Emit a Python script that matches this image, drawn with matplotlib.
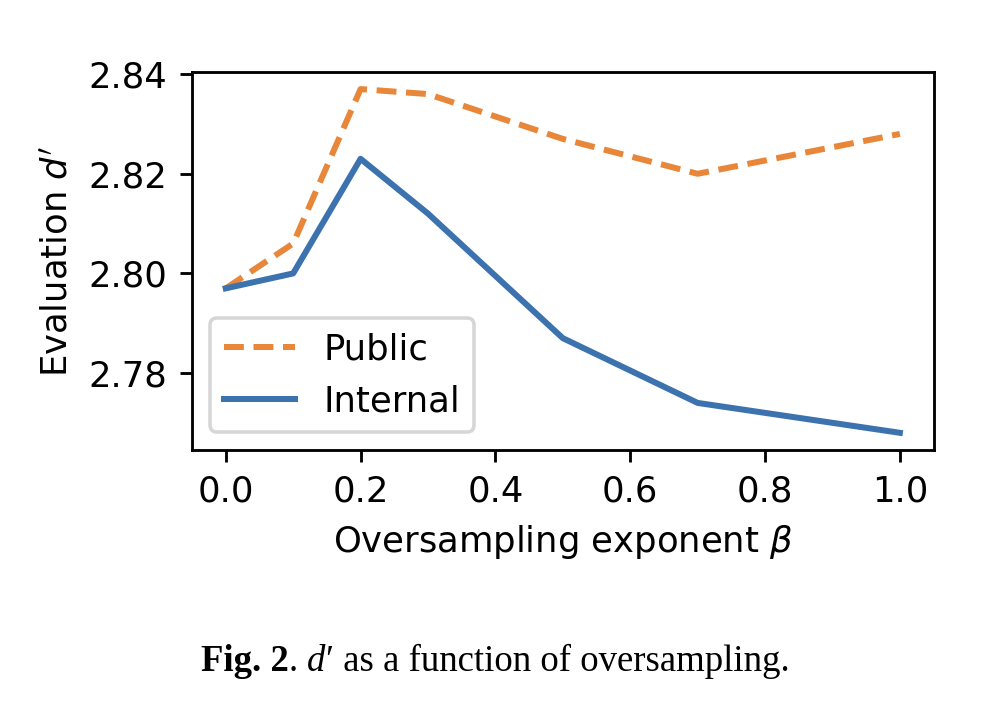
import matplotlib
matplotlib.use("Agg")
import matplotlib.pyplot as plt

beta = [0.0, 0.1, 0.2, 0.3, 0.5, 0.7, 1.0]
public = [2.797, 2.806, 2.837, 2.836, 2.827, 2.820, 2.828]
internal = [2.797, 2.800, 2.823, 2.812, 2.787, 2.774, 2.768]
yticks = [2.78, 2.80, 2.82, 2.84]
xticks = [0.0, 0.2, 0.4, 0.6, 0.8, 1.0]

DPI = 255
fig = plt.figure(figsize=(990 / DPI, 712 / DPI), dpi=DPI)
ax = fig.add_axes([0.194, 0.368, 0.749, 0.531])
ax.plot(beta, public, ls="--", color="#E8873A", lw=1.7, label="Public", dashes=(3.3, 1.6))
ax.plot(beta, internal, ls="-", color="#3C73AF", lw=1.7, label="Internal")
ax.set_yticks(yticks)
ax.set_xticks(xticks)
ax.set_xticklabels([f"{v:.1f}" for v in xticks])
ax.set_yticklabels([f"{v:.2f}" for v in yticks])
ax.set_xlabel(r"Oversampling exponent $\beta$")
ax.set_ylabel(r"Evaluation $d'$")
ax.legend(loc="lower left")

fs = 10.4
t1 = fig.text(0.203, 0.058, "Fig. 2", fontsize=fs, family="Liberation Serif", weight="bold")
t2 = ax.annotate(". ", xycoords=t1, xy=(1, 0), va="bottom", fontsize=fs, family="Liberation Serif")
t3 = ax.annotate("d", xycoords=t2, xy=(1, 0), va="bottom", fontsize=fs, family="Liberation Serif", style="italic")
t4 = ax.annotate("′ as a function of oversampling.", xycoords=t3, xy=(1, 0), va="bottom", fontsize=fs, family="Liberation Serif")

fig.savefig("out.png", dpi=DPI)
